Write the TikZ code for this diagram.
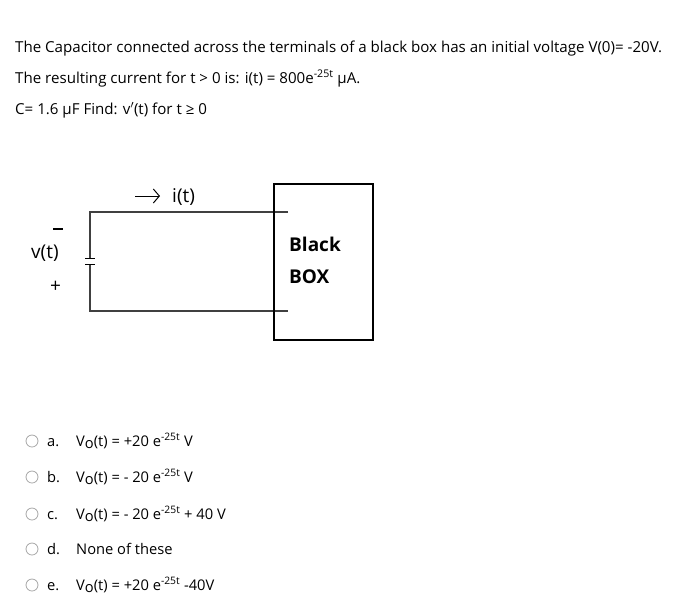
\documentclass[tikz,border=0pt]{standalone}
\usepackage{fontspec}
\usetikzlibrary{arrows.meta}
\setmainfont{Open Sans}
\begin{document}
\begin{tikzpicture}[x=1pt,y=-1pt,
  txt/.style={anchor=base west,inner sep=0pt,font=\fontsize{15.1}{17}\selectfont},
  opt/.style={anchor=base west,inner sep=0pt,font=\fontsize{14.7}{17}\selectfont},
  radio/.style={draw=gray!70,line width=0.8pt,circle,minimum size=12pt,inner sep=0pt},
  wire/.style={line width=1.2pt,draw=black!75},
  big/.style={anchor=base west,inner sep=0pt,font=\fontsize{19}{22}\selectfont}]
\useasboundingbox (0,0) rectangle (692,606);
\node[txt] (l1) at (15,52) {The Capacitor connected across the terminals of a black box has an initial voltage V(0)= -20V.};
\node[txt] (l2) at (15,83) {The resulting current for t > 0 is: i(t) = 800e\textsuperscript{-25t} µA.};
\node[txt] (l3) at (15,114) {C= 1.6 µF Find: v$'$(t) for t ≥ 0};
% circuit
\coordinate (tl) at (90,212); \coordinate (tr) at (288,212);
\coordinate (bl) at (90,311); \coordinate (br) at (288,311);
\coordinate (c1) at (90,258); \coordinate (c2) at (90,264);
\draw[wire] (tr) -- (tl) -- (c1);
\draw[wire] (c2) -- (bl) -- (br);
\draw[line width=1pt] (85,258) -- (95,258) (85,264) -- (95,264);
\node[draw,line width=1.2pt,minimum width=99pt,minimum height=156pt,inner sep=0pt] (box) at (323.5,262) {};
\node[big] (b1) at (289,251) {\textbf{Black}};
\node[big] (b2) at (289,283) {\textbf{BOX}};
\coordinate (a1) at (135,196); \coordinate (a2) at (160,196);
\draw[line width=1pt,-{Straight Barb[length=6pt,width=14pt]}] (a1) -- (a2);
\node[big] (it) at (172,202) {i(t)};
\node[big] (vt) at (31,258) {v(t)};
\coordinate (m1) at (53,229); \coordinate (m2) at (63,229);
\draw[line width=1.2pt] (m1) -- (m2);
\node[big] (pl) at (50,292) {+};
% options
\foreach \y/\l/\t in {441/a./{V\raisebox{-2pt}{o}(t) = +20 e\textsuperscript{-25t} V},
  477/b./{V\raisebox{-2pt}{o}(t) = - 20 e\textsuperscript{-25t} V},
  514/c./{V\raisebox{-2pt}{o}(t) = - 20 e\textsuperscript{-25t} + 40 V},
  549/d./{None of these},
  585/e./{V\raisebox{-2pt}{o}(t) = +20 e\textsuperscript{-25t} -40V}}{
  \node[radio] (r\y) at (32,\y) {};
  \node[opt] (k\y) at (47,\y+5) {\l};
  \node[opt] (o\y) at (76,\y+5) {\t};
}
\end{tikzpicture}
\end{document}
